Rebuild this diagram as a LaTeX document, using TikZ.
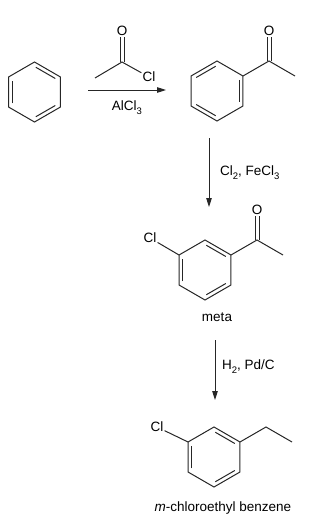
\documentclass[tikz,border=0pt]{standalone}
\usepackage{fontspec}
\setmainfont{Liberation Sans}
\usetikzlibrary{arrows.meta,calc}
\newcommand{\chsub}[1]{\raisebox{-0.3em}{\fontsize{9.5}{10}\selectfont #1}}
\newcommand{\hexring}[4]{%
  \coordinate (#1-c) at (#2,#3);
  \coordinate (#1-1) at (#2,#3-#4);
  \coordinate (#1-2) at (#2+0.866*#4,#3-0.5*#4);
  \coordinate (#1-3) at (#2+0.866*#4,#3+0.5*#4);
  \coordinate (#1-4) at (#2,#3+#4);
  \coordinate (#1-5) at (#2-0.866*#4,#3+0.5*#4);
  \coordinate (#1-6) at (#2-0.866*#4,#3-0.5*#4);
  \draw[bond] (#1-1)--(#1-2)--(#1-3)--(#1-4)--(#1-5)--(#1-6)--cycle;
}
\newcommand{\innerbond}[3]{\draw[bond,shorten <=1.5pt,shorten >=1.5pt] ($(#1-#2)!0.15!(#1-c)$) -- ($(#1-#3)!0.15!(#1-c)$);}
\tikzset{
  bond/.style={line width=1pt,draw=black!85},
  rxn/.style={line width=1pt,draw=black!85,-{Triangle[length=9pt,width=5.5pt]}},
  lbl/.style={inner sep=1pt,font=\fontsize{13.5}{16}\selectfont},
}
\begin{document}
\begin{tikzpicture}[x=1pt,y=-1pt]
\useasboundingbox (0,0) rectangle (322,530);
% benzene
\hexring{bz}{34.5}{92}{30}
\innerbond{bz}{1}{2}\innerbond{bz}{3}{4}\innerbond{bz}{5}{6}
% acetyl chloride
\coordinate (acme) at (95,78);
\coordinate (acc) at (122,62);
\node[lbl] (aco) at (122,31) {O};
\node[lbl] (accl) at (149,77) {Cl};
\draw[bond] (acme) -- (acc) -- (accl);
\draw[bond] ([xshift=-2pt]acc) -- ([xshift=-2pt]aco.south);
\draw[bond] ([xshift=2pt]acc) -- ([xshift=2pt]aco.south);
% arrow 1
\coordinate (a1s) at (88,90);
\coordinate (a1e) at (166,90);
\draw[rxn] (a1s) -- (a1e);
\node[lbl] (alcl) at (127,108) {AlCl\chsub{3}};
% acetophenone
\hexring{ap}{217}{91}{30}
\innerbond{ap}{6}{1}\innerbond{ap}{2}{3}\innerbond{ap}{4}{5}
\coordinate (apc) at (269,61);
\coordinate (apme) at (295,76);
\node[lbl] (apo) at (269,31) {O};
\draw[bond] (ap-2) -- (apc) -- (apme);
\draw[bond] ([xshift=-2pt]apc) -- ([xshift=-2pt]apo.south);
\draw[bond] ([xshift=2pt]apc) -- ([xshift=2pt]apo.south);
% arrow 2
\coordinate (a2s) at (209,138);
\coordinate (a2e) at (209,207);
\draw[rxn] (a2s) -- (a2e);
\node[lbl,anchor=west] (r2) at (219,173) {Cl\chsub{2}, FeCl\chsub{3}};
% meta product
\hexring{mt}{205}{270}{30}
\innerbond{mt}{1}{2}\innerbond{mt}{3}{4}\innerbond{mt}{5}{6}
\node[lbl] (mtcl) at (150,238) {Cl};
\draw[bond] (mt-6) -- (mtcl);
\coordinate (mtc) at (257,240);
\coordinate (mtme) at (283,255);
\node[lbl] (mto) at (257,210) {O};
\draw[bond] (mt-2) -- (mtc) -- (mtme);
\draw[bond] ([xshift=-2pt]mtc) -- ([xshift=-2pt]mto.south);
\draw[bond] ([xshift=2pt]mtc) -- ([xshift=2pt]mto.south);
\node[lbl] (meta) at (217,317) {meta};
% arrow 3
\coordinate (a3s) at (215,340);
\coordinate (a3e) at (215,400);
\draw[rxn] (a3s) -- (a3e);
\node[lbl,anchor=west] (r3) at (221,367) {H\chsub{2}, Pd/C};
% final product
\hexring{fp}{214}{457}{30}
\innerbond{fp}{1}{2}\innerbond{fp}{3}{4}\innerbond{fp}{5}{6}
\node[lbl] (fpcl) at (157,427) {Cl};
\draw[bond] (fp-6) -- (fpcl);
\coordinate (fpch) at (266,427);
\coordinate (fpme) at (292,442);
\draw[bond] (fp-2) -- (fpch) -- (fpme);
\node[lbl] (name) at (223,508) {\textit{m}-chloroethyl benzene};
\end{tikzpicture}
\end{document}
